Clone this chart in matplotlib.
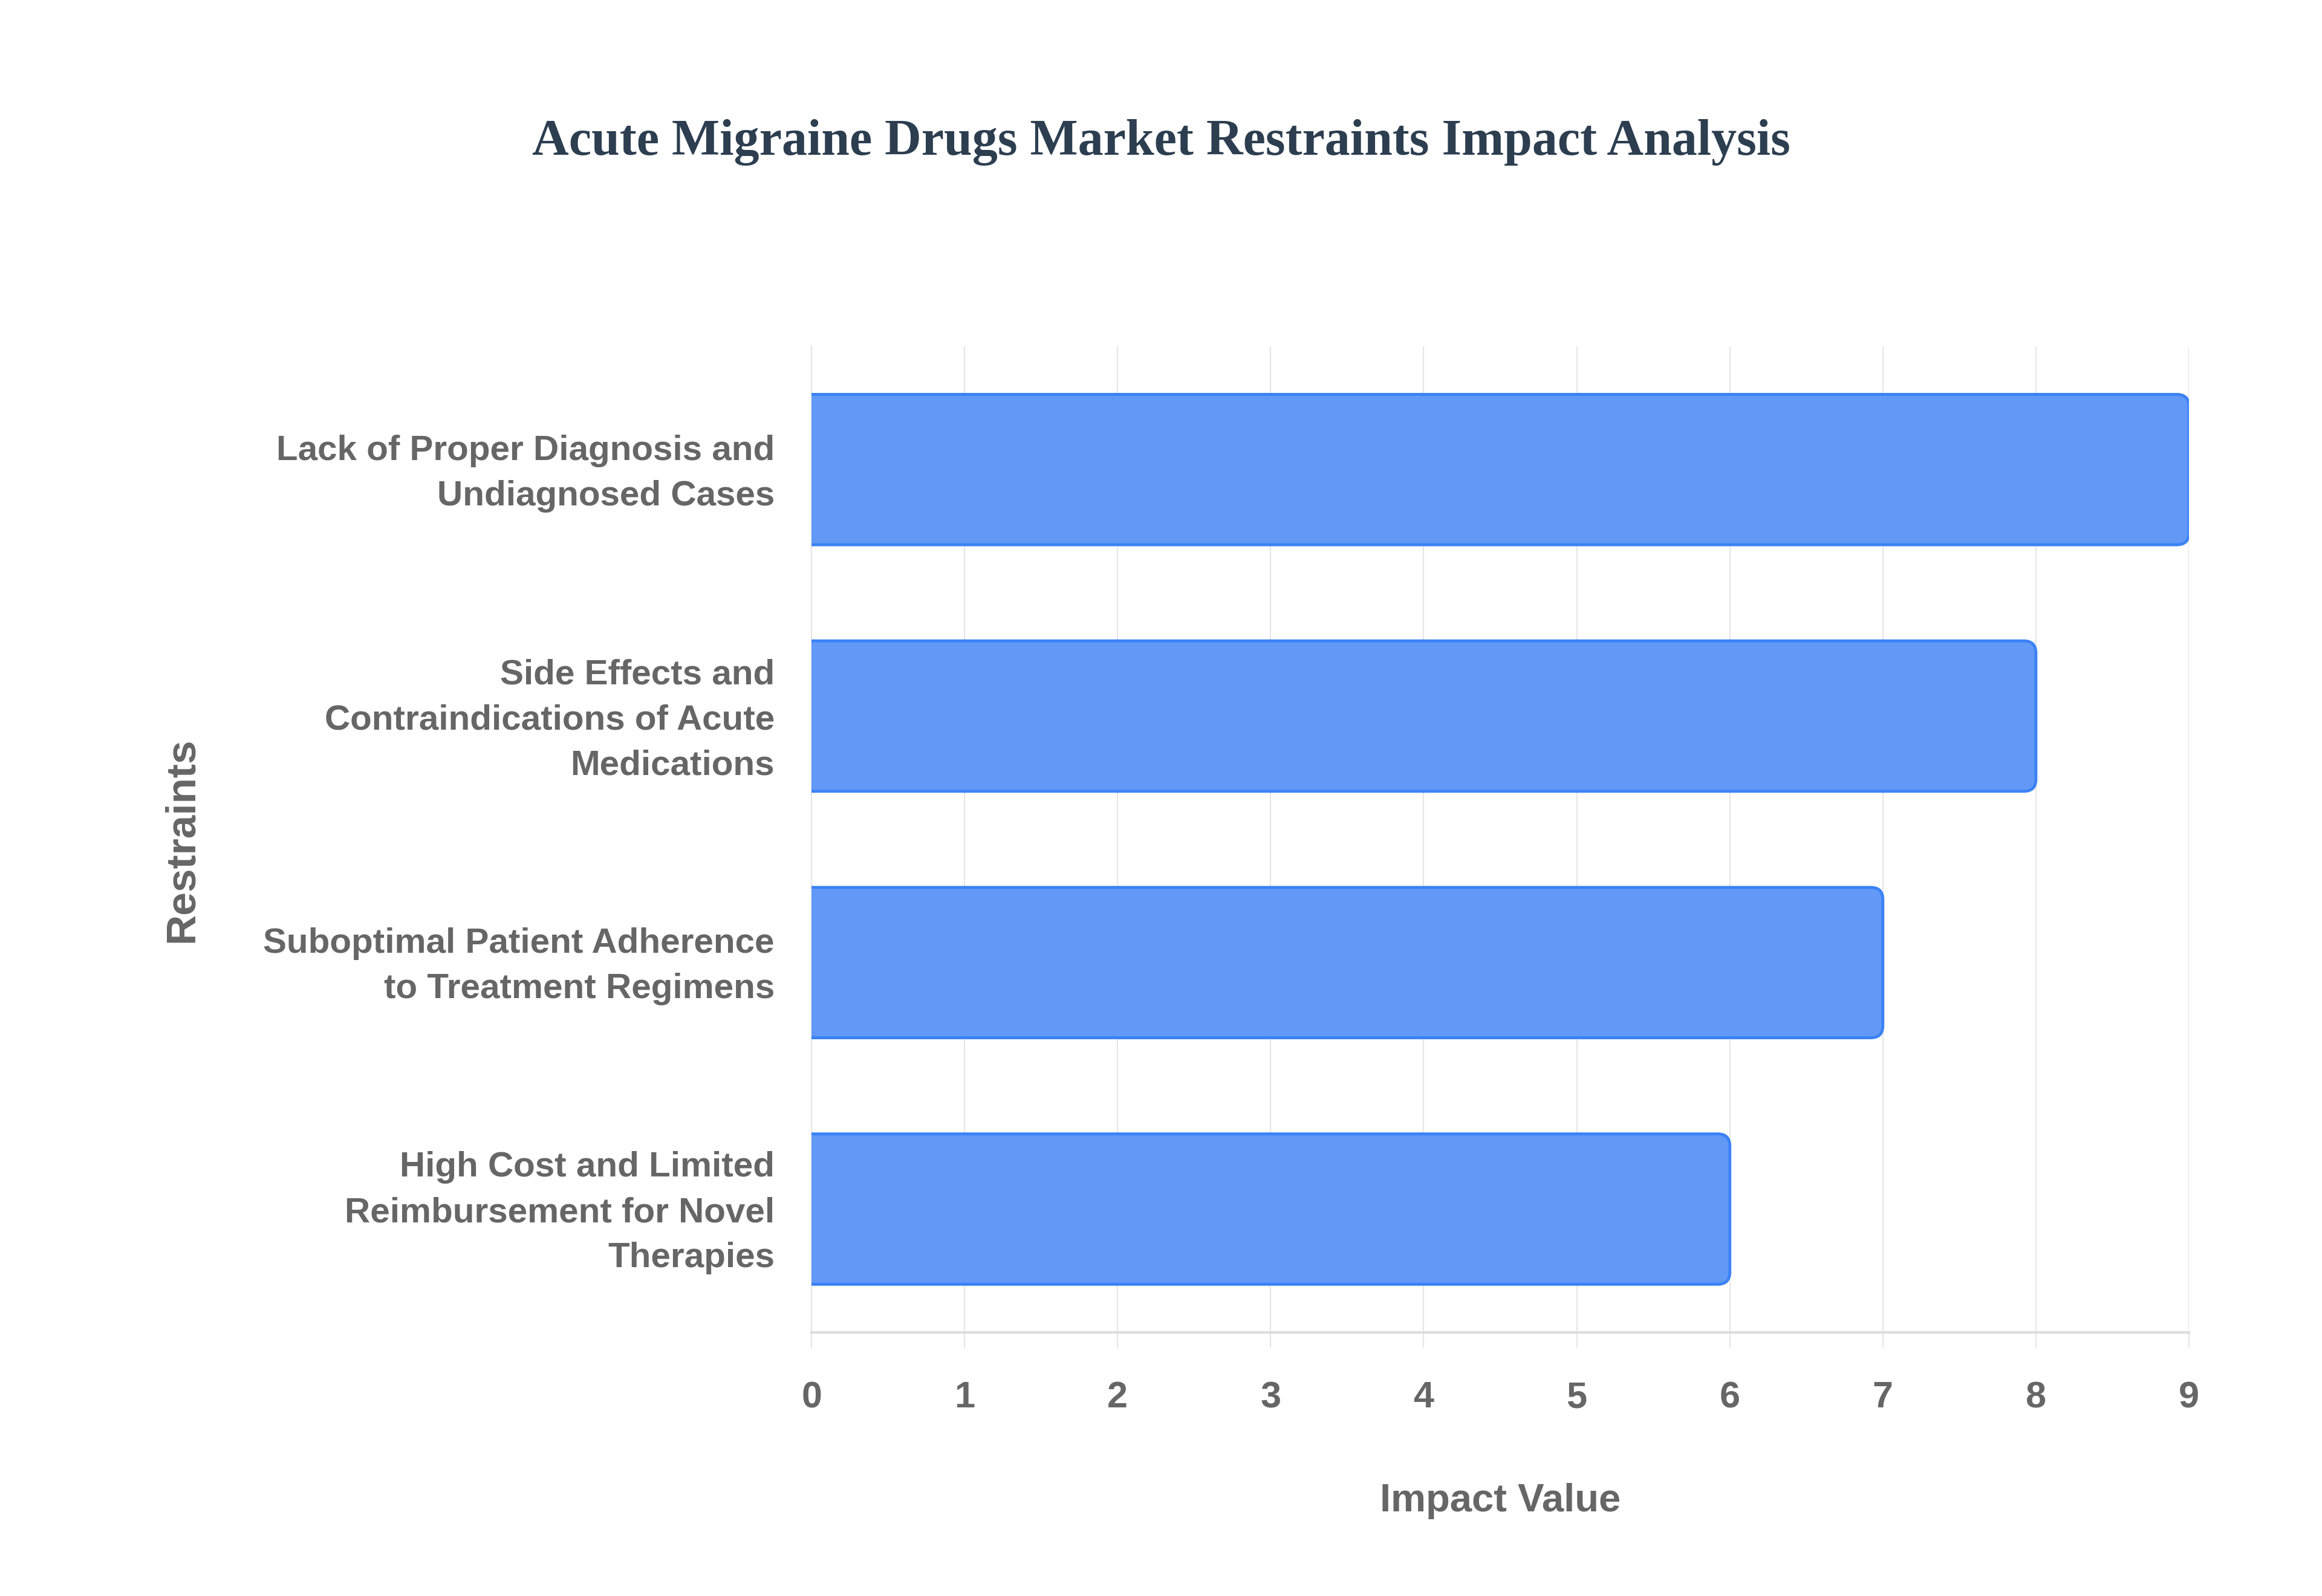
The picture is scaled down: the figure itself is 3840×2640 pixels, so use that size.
import matplotlib
matplotlib.use("Agg")
import matplotlib.pyplot as plt
from matplotlib.patches import FancyBboxPatch
from matplotlib.transforms import ScaledTranslation
from matplotlib import font_manager

# data
restraints = [
    "Lack of Proper Diagnosis and\nUndiagnosed Cases",
    "Side Effects and\nContraindications of Acute\nMedications",
    "Suboptimal Patient Adherence\nto Treatment Regimens",
    "High Cost and Limited\nReimbursement for Novel\nTherapies",
]
impact = [9, 8, 7, 6]
x_ticks = [0, 1, 2, 3, 4, 5, 6, 7, 8, 9]

TITLE = "Acute Migraine Drugs Market Restraints Impact Analysis"
BAR_FILL = "#6399f6"
BAR_EDGE = "#3b82f6"
GRID = "#e6e6e6"
TEXT = "#666666"

names = {f.name for f in font_manager.fontManager.ttflist}
sans = "Liberation Sans" if "Liberation Sans" in names else "DejaVu Sans"
serif = "Liberation Serif" if "Liberation Serif" in names else "DejaVu Serif"

fig = plt.figure(figsize=(38.4, 26.4), dpi=100)
ax = fig.add_axes([0.3495, 0.1652, 0.5932, 0.6178])

ax.set_xlim(0, 9)
ax.set_ylim(len(restraints) - 0.5, -0.5)

# bars, rounded on the value end only (left side hidden past the axis)
bar_h = 0.61
x_unit = 0.5932 * 3840 / 9
y_unit = 0.6178 * 2640 / 4
radius = 20 / x_unit
for i, v in enumerate(impact):
    patch = FancyBboxPatch(
        (-0.2, i - bar_h / 2), v + 0.2, bar_h,
        boxstyle=f"round,pad=0,rounding_size={radius}",
        mutation_aspect=x_unit / y_unit,
        facecolor=BAR_FILL, edgecolor=BAR_EDGE, linewidth=3.5,
        zorder=3, clip_on=True,
    )
    ax.add_patch(patch)
    patch.set_clip_path(ax.patch)

ax.set_yticks(range(len(restraints)))
ax.set_yticklabels(restraints, fontsize=42, fontweight="bold", color=TEXT,
                   family=sans, linespacing=1.5, ha="right")
ax.set_xticks(x_ticks)
ax.set_xticklabels([str(t) for t in x_ticks], fontsize=44, fontweight="bold",
                   color=TEXT, family=sans)

ax.tick_params(axis="y", length=0, pad=44)
ax.tick_params(axis="x", length=18, width=1.5, color=GRID, pad=40)

# nudge the category labels up a little
shift = ScaledTranslation(0, 0.1, fig.dpi_scale_trans)
for lab in ax.get_yticklabels():
    lab.set_transform(lab.get_transform() + shift)

ax.grid(axis="x", color=GRID, linewidth=1.5, zorder=0)
ax.set_axisbelow(True)
for s in ["top", "right"]:
    ax.spines[s].set_visible(False)
ax.spines["left"].set_color(GRID)
ax.spines["left"].set_linewidth(1.5)
ax.spines["bottom"].set_color("#dddddd")
ax.spines["bottom"].set_linewidth(3)

ax.set_xlabel("Impact Value", fontsize=47, fontweight="bold", color=TEXT,
              family=sans, labelpad=80)
ax.set_ylabel("Restraints", fontsize=50, fontweight="bold", color=TEXT,
              family=sans, va="center")
ax.yaxis.set_label_coords(301 / 3840, 1 - 1389 / 2640, transform=fig.transFigure)

fig.text(0.5, 1 - 235 / 2640, TITLE, fontsize=60.5, fontweight="bold",
         color="#2c3e50", family=serif, ha="center", va="center")

fig.savefig("out.png", dpi=100, facecolor="white")
